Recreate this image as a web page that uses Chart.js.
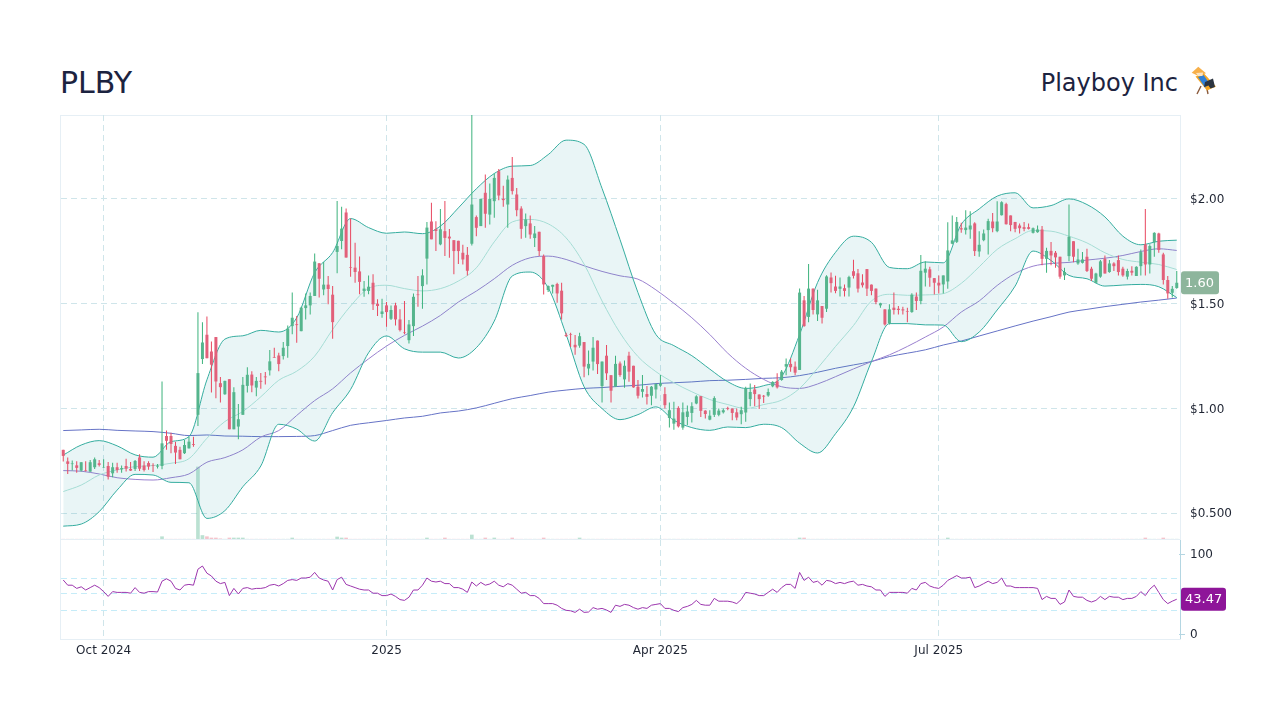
<!DOCTYPE html>
<html>
<head>
<meta charset="utf-8">
<title>PLBY</title>
<script src="https://cdn.jsdelivr.net/npm/chart.js@4/dist/chart.umd.min.js"></script>
<style>
  html, body { margin: 0; width: 1280px; height: 720px; background: #fff; overflow: hidden; font-family: "DejaVu Sans", sans-serif; }
  canvas { position: absolute; left: 0; }
  .abs { position: absolute; }
  #ticker { left: 60px; top: 64px; font-size: 30px; line-height: 38px; color: #1c2340; }
  #company { right: 102px; top: 67px; font-size: 24px; line-height: 32px; color: #1c2340; }
  #frame { left: 60px; top: 115px; width: 1121px; height: 525px; box-sizing: border-box; border: 1px solid #e6eff5; }
  #split { left: 60px; top: 539px; width: 1120px; height: 1px; background: #e6eff5; }
  #rsiEdge { left: 1180px; top: 540px; width: 1px; height: 99px; background: #b4d6e2; }
</style>
</head>
<body>
<div class="abs" id="ticker">PLBY</div>
<div class="abs" id="company">Playboy Inc</div>
<svg class="abs" style="left:1190px;top:66px" width="28" height="30" viewBox="0 0 28 30">
  <path d="M11 20 L7 28 M17 23 L18 28" stroke="#8a5a3c" stroke-width="1.4" fill="none"/>
  <path d="M5.5 10.5 L14 7.5 L26 20.5 L17 24.5 Z" fill="#f5a623"/>
  <path d="M8 11 L13.5 9 L19.5 17.5 L15 21.5 Z" fill="#2f80d8"/>
  <path d="M15 16 L23 12.5 L25 21 L20.5 22.5 L18.5 19.5 L14 21 Z" fill="#2c3440"/>
  <path d="M1.7 6.7 L8.3 0.7 L16 7.3 L8.3 10 Z" fill="#f7b04a"/>
  <path d="M6 7 L13 6.5 L12.5 10 L8 10 Z" fill="#fbe3c0"/>
</svg>
<div class="abs" id="frame"></div>
<canvas id="priceChart" width="1280" height="425" style="top:115px"></canvas>
<canvas id="rsiChart" width="1280" height="125" style="top:540px"></canvas>
<div class="abs" id="split"></div>
<div class="abs" id="rsiEdge"></div>

<script>
const openPrices = [
  .803,.748,.735,.729,.704,.707,.699,.720,.739,.718,
  .726,.691,.720,.710,.726,.712,.712,.767,.728,.740,
  .728,.723,.726,.869,.869,.822,.803,.787,.810,.830,
  .970,1.236,1.352,1.272,1.341,1.121,1.068,1.140,.901,.914,
  .970,1.108,1.162,1.100,1.132,1.153,1.182,1.245,1.253,1.250,
  1.298,1.393,1.402,1.369,1.479,1.492,1.537,1.693,1.568,1.591,
  1.543,1.747,1.799,1.935,1.675,1.672,1.654,1.561,1.561,1.600,
  1.500,1.451,1.492,1.428,1.492,1.425,1.363,1.326,1.393,1.544,
  1.584,1.715,1.892,1.855,1.783,1.846,1.820,1.803,1.800,1.743,
  1.733,1.786,1.913,1.870,2.029,1.925,1.989,2.132,2.000,1.973,
  2.100,2.021,1.954,1.870,1.883,1.813,1.843,1.727,1.565,1.581,
  1.594,1.562,1.351,1.354,1.304,1.300,1.317,1.191,1.224,1.324,
  1.107,1.252,1.159,1.104,1.215,1.139,1.252,1.204,1.104,1.080,
  1.069,1.061,1.091,1.109,1.069,.955,.928,1.003,.909,.960,
  .979,1.024,1.059,.990,.947,.970,.970,.982,1.002,1.000,
  .982,.973,.981,1.045,1.091,1.067,1.061,1.062,1.106,1.130,
  1.136,1.200,1.213,1.200,1.184,1.516,1.437,1.572,1.449,1.489,
  1.476,1.625,1.582,1.571,1.574,1.577,1.655,1.645,1.601,1.665,
  1.591,1.572,1.492,1.473,1.407,1.481,1.476,1.473,1.465,1.460,
  1.534,1.513,1.648,1.664,1.622,1.600,1.592,1.606,1.786,1.795,
  1.860,1.851,1.854,1.883,1.749,1.803,1.851,1.892,1.846,1.922,
  1.975,1.921,1.890,1.873,1.865,1.865,1.838,1.841,1.854,1.714,
  1.752,1.743,1.724,1.635,1.727,1.798,1.692,1.695,1.724,1.667,
  1.600,1.629,1.714,1.651,1.692,1.708,1.667,1.629,1.657,1.632,
  1.679,1.783,1.687,1.794,1.835,1.735,1.613,1.552,1.575
];
const closePrices = [
  .774,.736,.738,.717,.744,.704,.744,.758,.731,.720,
  .675,.720,.707,.716,.713,.704,.750,.713,.707,.723,
  .726,.728,.834,.846,.831,.790,.758,.826,.842,.826,
  1.169,1.315,1.240,1.209,1.129,1.102,1.132,.901,1.078,.949,
  1.113,1.161,1.110,1.132,1.128,1.149,1.225,1.242,1.212,1.290,
  1.381,1.433,1.398,1.481,1.492,1.537,1.701,1.619,1.591,1.570,
  1.412,1.775,1.858,1.720,1.672,1.651,1.604,1.572,1.581,1.497,
  1.489,1.463,1.460,1.470,1.425,1.374,1.360,1.401,1.533,1.541,
  1.635,1.863,1.807,1.847,1.855,1.814,1.811,1.751,1.751,1.711,
  1.657,1.973,1.862,2.000,1.929,2.000,2.100,2.016,1.994,2.092,
  2.037,1.946,1.857,1.902,1.830,1.835,1.751,1.592,1.584,1.590,
  1.549,1.454,1.346,1.351,1.292,1.345,1.200,1.213,1.290,1.212,
  1.224,1.168,1.085,1.213,1.160,1.204,1.176,1.101,1.061,1.093,
  1.056,1.104,1.117,1.120,1.016,.992,.952,.915,.982,.986,
  1.011,1.058,.989,.974,.966,1.050,.990,.992,.998,.979,
  .957,.992,1.096,1.079,1.069,1.045,1.057,1.079,1.127,1.101,
  1.176,1.212,1.197,1.171,1.553,1.393,1.572,1.470,1.516,1.433,
  1.630,1.598,1.561,1.582,1.561,1.627,1.633,1.572,1.588,1.572,
  1.561,1.508,1.502,1.401,1.473,1.470,1.470,1.468,1.462,1.543,
  1.513,1.657,1.667,1.624,1.600,1.587,1.635,1.754,1.802,1.890,
  1.854,1.863,1.873,1.751,1.781,1.835,1.894,1.860,1.892,1.984,
  1.879,1.875,1.857,1.860,1.857,1.857,1.860,1.854,1.714,1.752,
  1.730,1.721,1.629,1.651,1.819,1.724,1.711,1.711,1.656,1.619,
  1.644,1.702,1.644,1.692,1.679,1.651,1.635,1.656,1.648,1.676,
  1.746,1.687,1.775,1.838,1.756,1.613,1.549,1.571,1.600
];
const highPrices = [
  .803,.767,.752,.748,.744,.748,.755,.767,.755,.758,
  .745,.742,.742,.728,.761,.745,.755,.782,.748,.748,
  .739,.735,1.129,.895,.885,.842,.818,.850,.866,.866,
  1.459,1.411,1.439,1.320,1.341,1.150,1.132,1.140,1.102,1.022,
  1.150,1.197,1.178,1.151,1.170,1.174,1.279,1.290,1.266,1.317,
  1.396,1.553,1.441,1.486,1.549,1.553,1.739,1.693,1.699,1.632,
  1.584,1.990,1.963,1.954,1.906,1.791,1.725,1.608,1.635,1.640,
  1.521,1.524,1.508,1.492,1.505,1.473,1.513,1.422,1.549,1.632,
  1.664,1.890,1.982,1.893,1.952,1.990,1.856,1.803,1.800,1.781,
  1.771,2.406,1.921,2.000,2.116,2.073,2.121,2.143,2.063,2.111,
  2.200,2.052,1.965,1.930,1.921,1.870,1.843,1.735,1.587,1.590,
  1.600,1.600,1.361,1.362,1.351,1.361,1.317,1.277,1.341,1.324,
  1.224,1.303,1.159,1.252,1.224,1.229,1.271,1.204,1.136,1.160,
  1.107,1.107,1.120,1.160,1.101,1.029,1.032,1.011,1.029,1.014,
  1.030,1.063,1.059,.992,.992,1.059,1.000,1.000,1.008,1.000,
  1.000,1.008,1.104,1.120,1.112,1.067,1.064,1.096,1.130,1.168,
  1.184,1.239,1.240,1.224,1.572,1.537,1.689,1.572,1.566,1.489,
  1.636,1.649,1.633,1.625,1.591,1.633,1.710,1.665,1.641,1.665,
  1.591,1.572,1.505,1.473,1.497,1.553,1.489,1.486,1.481,1.550,
  1.553,1.732,1.702,1.676,1.622,1.635,1.635,1.889,1.921,1.914,
  1.886,1.946,1.941,1.889,1.846,1.854,1.905,1.933,1.989,1.989,
  1.981,1.921,1.890,1.883,1.890,1.883,1.863,1.873,1.870,1.767,
  1.794,1.751,1.724,1.671,1.973,1.798,1.762,1.746,1.762,1.676,
  1.648,1.708,1.730,1.708,1.698,1.730,1.676,1.667,1.679,1.679,
  1.759,1.952,1.783,1.841,1.838,1.743,1.632,1.584,1.656
];
const lowPrices = [
  .747,.688,.704,.694,.700,.700,.699,.712,.723,.718,
  .662,.672,.694,.694,.700,.702,.702,.702,.700,.708,
  .697,.714,.710,.803,.787,.736,.758,.783,.809,.818,
  .917,1.213,1.240,1.076,1.049,1.029,1.066,.901,.901,.854,
  .970,1.076,1.078,1.059,1.094,1.115,1.158,1.242,1.178,1.234,
  1.242,1.354,1.314,1.369,1.425,1.449,1.537,1.529,1.540,1.497,
  1.333,1.645,1.760,1.720,1.629,1.600,1.545,1.533,1.545,1.470,
  1.441,1.433,1.390,1.422,1.396,1.368,1.354,1.310,1.346,1.486,
  1.476,1.592,1.807,1.751,1.779,1.727,1.719,1.641,1.689,1.687,
  1.635,1.778,1.822,1.870,1.862,1.878,1.910,1.994,1.962,1.862,
  2.021,1.917,1.810,1.814,1.810,1.771,1.727,1.544,1.556,1.549,
  1.505,1.425,1.341,1.293,1.256,1.290,1.149,1.159,1.181,1.165,
  1.029,1.136,1.029,1.104,1.152,1.099,1.128,1.099,1.048,1.053,
  1.019,1.016,1.048,1.104,1.000,.909,.899,.909,.899,.920,
  .934,1.021,.960,.952,.944,.960,.963,.976,.992,.944,
  .944,.925,.937,1.011,1.011,.998,1.027,1.056,1.101,1.096,
  1.133,1.159,1.176,1.159,1.184,1.390,1.412,1.449,1.417,1.405,
  1.460,1.553,1.550,1.534,1.534,1.534,1.620,1.553,1.577,1.537,
  1.540,1.497,1.481,1.396,1.401,1.449,1.449,1.449,1.412,1.457,
  1.470,1.497,1.582,1.581,1.544,1.549,1.549,1.571,1.783,1.790,
  1.838,1.830,1.810,1.727,1.724,1.798,1.735,1.841,1.841,1.921,
  1.878,1.846,1.841,1.835,1.846,1.854,1.835,1.838,1.683,1.648,
  1.683,1.671,1.619,1.613,1.703,1.698,1.686,1.692,1.651,1.608,
  1.597,1.624,1.644,1.648,1.656,1.635,1.629,1.616,1.635,1.632,
  1.635,1.635,1.644,1.724,1.743,1.592,1.524,1.529,1.571
];
// volume in millions of shares, only the tall ones are really readable
const volumes = [
  .08,.08,.08,.08,.08,.08,.08,.08,.08,.08,
  .08,.08,.08,.08,.08,.08,.08,.08,.08,.08,
  .08,.08,.33,.08,.08,.08,.08,.08,.08,.08,
  7.3,.45,.33,.2,.2,.12,.08,.2,.2,.2,
  .2,.08,.08,.08,.08,.08,.08,.08,.08,.08,
  .08,.2,.08,.08,.08,.08,.08,.08,.08,.08,
  .08,.3,.2,.2,.08,.08,.08,.08,.08,.08,
  .08,.08,.08,.08,.08,.08,.08,.08,.08,.08,
  .08,.2,.08,.08,.08,.2,.08,.08,.08,.08,
  .08,.5,.08,.08,.2,.08,.2,.08,.08,.08,
  .2,.08,.08,.08,.08,.08,.08,.2,.08,.08,
  .08,.08,.08,.08,.08,.2,.08,.08,.08,.08,
  .08,.08,.08,.08,.08,.08,.08,.08,.08,.08,
  .08,.08,.08,.08,.08,.08,.08,.08,.08,.08,
  .08,.08,.08,.08,.08,.08,.08,.08,.08,.08,
  .08,.08,.08,.08,.08,.08,.08,.08,.08,.08,
  .08,.08,.08,.08,.2,.2,.08,.08,.08,.08,
  .08,.08,.08,.08,.08,.08,.08,.08,.08,.08,
  .08,.08,.08,.08,.08,.08,.08,.08,.08,.08,
  .08,.08,.08,.08,.08,.08,.08,.2,.08,.08,
  .08,.08,.08,.08,.08,.08,.08,.08,.08,.08,
  .08,.08,.08,.08,.08,.08,.08,.08,.08,.08,
  .08,.08,.08,.08,.08,.08,.08,.08,.08,.08,
  .08,.08,.08,.08,.08,.08,.08,.08,.08,.08,
  .08,.2,.08,.08,.08,.2,.08,.08,.08
];
const rsiValues = [
  67.5,61,61,57,59,55,58,61,58,53,
  47,53,52,52,52,51,58,52,51,53,
  53,52.5,66,69,66,57,55,61,62,61,
  81,85,76,72.5,66,63,64.5,48,57,50,
  57,58,56,57,57,58,61,62,60,63,
  67,68,67,70,70,71,77,70,67.5,66,
  55,68,71,62,60,58,56,55,55,51,
  51,48,48,50,47,43,42,46,55,55,
  61,70,66,65,66,63,63,58,58,56,
  52,65,60,64.5,61,62.5,66,61,59,63,
  61,56,51,52,48,48,44.5,38,38,38,
  36,32,29.6,29,27,31,27,27.5,33,31,
  32,30,27,36,34.5,37,36,33,31,33,
  32,36,37,38,32,32,29.6,28,33,34.5,
  37,42,37,36,36,44.5,41,41,41,40,
  38,43,52,51,50,48,48,52,56,52,
  58,62,62,57,77,67,71,64.5,66,61,
  67,66,63,64.5,63,65,66,61,62,60,
  59,55,55,47,52,52,52,52,51,57,
  55,63,64.5,60,58,57,61,67,70,73,
  70,70,71,58,60,63,66,63,64.5,70,
  60,60,58,58,58,58,58,57,43,47,
  44.5,44.5,37,40,55,47,46,46,42,40,
  42,47,43,47,46,46,43,44.5,44.5,47,
  53,48,56,61,52,43,38,41,43.47
];

// lines below
const lineStep = 4;
const bandUpper = [
  .778,.826,.847,.822,.779,.768,.842,.866,1.137,1.331,1.347,1.373,1.365,1.433,1.648,1.744,
  1.906,1.863,1.836,1.842,1.834,1.870,1.957,2.048,2.121,2.156,2.159,2.211,2.280,2.26,2.05,1.806,
  1.553,1.353,1.300,1.252,1.188,1.128,1.096,1.109,1.152,1.353,1.601,1.745,1.822,1.793,1.673,1.667,
  1.699,1.695,1.878,1.952,2.013,2.029,1.957,1.968,2.000,1.973,1.914,1.822,1.781,1.798,1.803
];
const bandLower = [
  .439,.449,.508,.611,.686,.683,.648,.646,.476,.513,.627,.726,.925,.902,.845,.980,
  1.091,1.266,1.346,1.285,1.269,1.269,1.241,1.290,1.417,1.632,1.651,1.576,1.353,1.104,1.000,.947,
  .971,1.008,.944,.909,.896,.912,.909,.925,.909,.835,.788,.880,1.008,1.224,1.405,1.405,
  1.399,1.398,1.319,1.365,1.470,1.584,1.751,1.706,1.635,1.619,1.584,1.589,1.592,1.581,1.529
];
const bandMiddle = [
  .604,.635,.683,.707,.723,.728,.739,.761,.858,.938,.986,1.056,1.135,1.178,1.250,1.377,
  1.489,1.573,1.588,1.572,1.561,1.572,1.608,1.671,1.795,1.890,1.902,1.881,1.814,1.689,1.513,1.361,
  1.248,1.176,1.123,1.080,1.043,1.019,1.000,1.019,1.040,1.096,1.192,1.296,1.396,1.513,1.545,1.540,
  1.542,1.548,1.597,1.676,1.759,1.810,1.849,1.846,1.822,1.790,1.743,1.711,1.698,1.687,1.663
];
const sma50 = [
  .704,.701,.688,.670,.662,.659,.670,.688,.744,.766,.803,.864,.895,.967,1.038,1.094,
  1.170,1.237,1.298,1.349,1.393,1.444,1.508,1.560,1.619,1.683,1.719,1.727,1.711,1.681,1.654,1.633,
  1.617,1.566,1.502,1.433,1.353,1.264,1.192,1.139,1.104,1.096,1.117,1.152,1.189,1.224,1.256,1.296,
  1.341,1.389,1.460,1.513,1.587,1.644,1.679,1.692,1.697,1.708,1.717,1.730,1.749,1.762,1.754
];
const sma200 = [
  .895,.898,.901,.896,.893,.890,.882,.871,.874,.869,.868,.866,.866,.867,.871,.895,
  .920,.932,.943,.955,.963,.979,.988,1.003,1.025,1.047,1.062,1.078,1.088,1.096,1.100,1.106,
  1.111,1.119,1.123,1.127,1.133,1.135,1.139,1.144,1.147,1.157,1.173,1.192,1.208,1.224,1.248,1.264,
  1.280,1.303,1.322,1.346,1.370,1.394,1.417,1.438,1.460,1.473,1.486,1.497,1.508,1.517,1.527
];

const xTickBars = [9, 72, 133, 195];
const xTickLabels = ['Oct 2024', '2025', 'Apr 2025', 'Jul 2025'];
const priceTicks = [0.5, 1, 1.5, 2];
const priceTickLabels = ['$0.500', '$1.00', '$1.50', '$2.00'];
const rsiTicks = [0, 30, 50, 70, 100];
const rsiLabelled = [0, 100];

const categories = closePrices.map((_, i) => String(i));

const UP = '#55b58d', DOWN = '#e2607a';
const UP_WICK = '#3cb27c', DOWN_WICK = '#e8475f';
const isUp = closePrices.map((c, i) => c >= openPrices[i]);

const linePoints = vals => vals.map((y, k) => ({ x: categories[k * lineStep], y }));
const lineSet = (vals, color, extra) => Object.assign({
  type: 'line', data: linePoints(vals), borderColor: color, borderWidth: 1,
  pointRadius: 0, cubicInterpolationMode: 'monotone', yAxisID: 'y', order: 5
}, extra);

// a coloured box on the right edge holding the last value
const lastValueBadge = (text, getValue, axis, color, boxWidth) => ({
  id: 'lastValueBadge',
  afterDraw(chart) {
    const c = chart.ctx;
    const y = chart.scales[axis].getPixelForValue(getValue);
    c.save();
    c.fillStyle = color;
    c.beginPath();
    c.roundRect(1181, y - 11.5, boxWidth, 23, 3);
    c.fill();
    c.fillStyle = '#fff';
    c.font = '13px "DejaVu Sans"';
    c.textAlign = 'left';
    c.textBaseline = 'middle';
    c.fillText(text, 1185, y + 0.5);
    c.restore();
  }
});

const keepXTicks = scale => {
  scale.ticks = xTickBars.map(i => ({ value: i, label: '' }));
};
// the tick labels must not push the plot area in from its edges
const noAxisPadding = s => {
  s.paddingTop = s.paddingBottom = s.paddingLeft = s.paddingRight = 0;
};

Chart.defaults.font.family = '"DejaVu Sans", sans-serif';
Chart.defaults.font.size = 12;
Chart.defaults.color = '#1f2533';
Chart.defaults.animation = false;

new Chart(document.getElementById('priceChart'), {
  type: 'bar',
  data: {
    labels: categories,
    datasets: [
      lineSet(bandUpper, '#35ad9f', { fill: { target: 1 }, backgroundColor: 'rgba(38,160,165,0.10)' }),
      lineSet(bandLower, '#35ad9f'),
      lineSet(bandMiddle, '#b4e4da'),
      lineSet(sma50, '#9a80cf'),
      lineSet(sma200, '#6673c6'),
      {
        data: volumes, yAxisID: 'vol', grouped: false, barThickness: 3, order: 6,
        backgroundColor: isUp.map(u => u ? 'rgba(60,170,125,0.35)' : 'rgba(224,86,109,0.35)')
      },
      {
        data: lowPrices.map((l, i) => [l, highPrices[i]]), yAxisID: 'y', grouped: false, barThickness: 1, order: 2,
        inflateAmount: 0,
        backgroundColor: isUp.map(u => u ? UP_WICK : DOWN_WICK)
      },
      {
        data: openPrices.map((o, i) => [o, closePrices[i]]), yAxisID: 'y', grouped: false, barThickness: 3, order: 1,
        inflateAmount: 0,
        backgroundColor: isUp.map(u => u ? UP : DOWN)
      }
    ]
  },
  options: {
    responsive: false,
    layout: { padding: { left: 61, right: 0, top: 0, bottom: 0 } },
    plugins: { legend: { display: false }, tooltip: { enabled: false } },
    scales: {
      x: {
        offset: true,
        grid: { offset: false, color: '#cfe5ea', drawTicks: false },
        border: { display: false, dash: [6, 4] },
        ticks: { display: false, autoSkip: false },
        afterBuildTicks: keepXTicks,
        afterFit: s => { noAxisPadding(s); s.height = 0; }
      },
      y: {
        position: 'right', min: 0.373, max: 2.4,
        grid: { color: '#cfe5ea', drawTicks: false },
        border: { display: false, dash: [6, 4] },
        ticks: { padding: 11, labelOffset: 1, callback: v => priceTickLabels[priceTicks.indexOf(v)] },
        afterBuildTicks: s => { s.ticks = priceTicks.map(value => ({ value })); },
        afterFit: s => { noAxisPadding(s); s.width = 101; }
      },
      vol: { display: false, min: 0, max: 42.5 }
    }
  },
  plugins: [lastValueBadge('1.60', closePrices[closePrices.length - 1], 'y', '#8db59c', 38)]
});

new Chart(document.getElementById('rsiChart'), {
  type: 'line',
  data: {
    labels: categories,
    datasets: [{
      data: rsiValues, borderColor: '#9c35ad', borderWidth: 1, pointRadius: 0, tension: 0
    }]
  },
  options: {
    responsive: false,
    layout: { padding: { left: 61, right: 0, top: 0, bottom: 0 } },
    plugins: { legend: { display: false }, tooltip: { enabled: false } },
    scales: {
      x: {
        offset: true,
        grid: { offset: false, color: '#cfe5ea', drawTicks: false },
        border: { display: false, dash: [6, 4] },
        ticks: { padding: 5, maxRotation: 0, autoSkip: false, callback: v => xTickLabels[xTickBars.indexOf(v)] },
        afterBuildTicks: keepXTicks,
        afterFit: s => { noAxisPadding(s); s.height = 26; }
      },
      y: {
        position: 'right', min: -6.25, max: 117.5,
        grid: {
          color: c => rsiLabelled.includes(c.tick.value) ? 'rgba(0,0,0,0)' : '#c6ecf8',
          tickColor: c => rsiLabelled.includes(c.tick.value) ? '#b4d6e2' : 'rgba(0,0,0,0)',
          tickLength: 6
        },
        border: { display: false, dash: [6, 4] },
        ticks: { padding: 5, labelOffset: 0.5, callback: v => rsiLabelled.includes(v) ? String(v) : '' },
        afterBuildTicks: s => { s.ticks = rsiTicks.map(value => ({ value })); },
        afterFit: s => { noAxisPadding(s); s.width = 101; }
      }
    }
  },
  plugins: [lastValueBadge('43.47', rsiValues[rsiValues.length - 1], 'y', '#8e1599', 45)]
});
</script>
</body>
</html>
